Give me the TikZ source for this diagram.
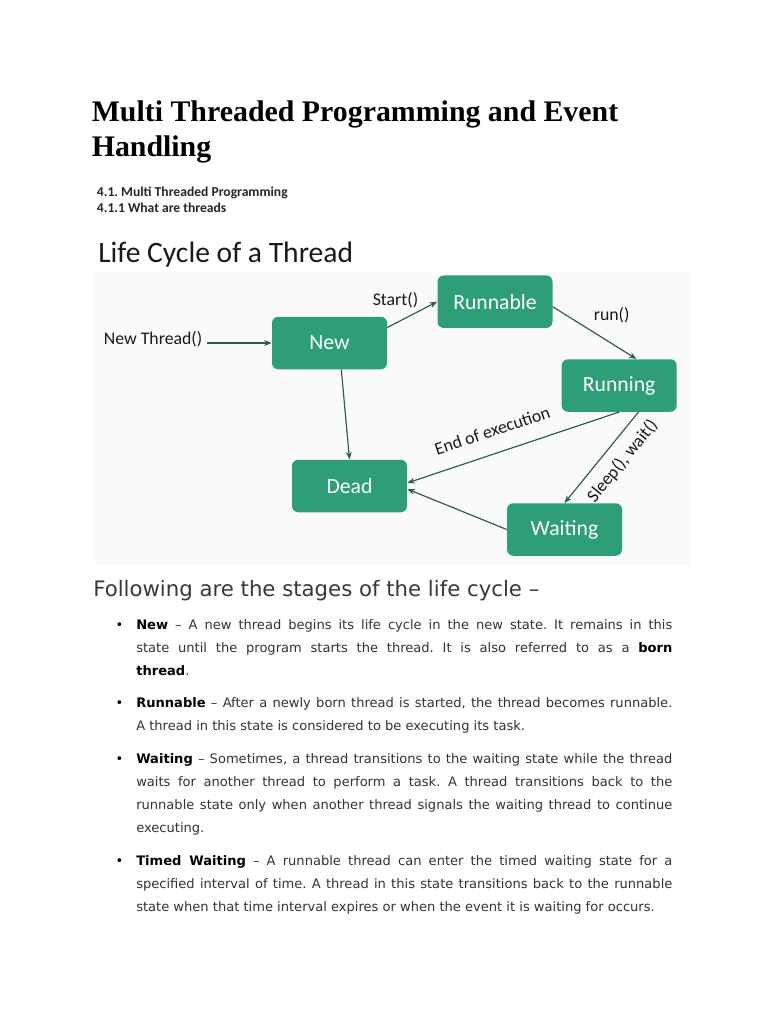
\documentclass[tikz,border=0pt]{standalone}
\usepackage{fontspec}
\usepackage{tikz}
\usetikzlibrary{arrows.meta, positioning, calc}
\usepackage{xcolor}
\setmainfont{Liberation Serif}
\newfontfamily\calibri{Carlito}
\newfontfamily\verdana{DejaVu Sans}
\definecolor{stategreen}{HTML}{2E9E78}
\definecolor{edgegreen}{HTML}{2B5E50}
\definecolor{bodygray}{HTML}{333333}
\definecolor{panelgray}{HTML}{FAFAFA}
\setlength{\parindent}{0pt}
\frenchspacing

\tikzset{
  state/.style={rectangle, rounded corners=4.5pt, fill=stategreen, text=white,
    minimum width=82.8pt, minimum height=37.8pt, inner sep=0pt,
    font=\calibri\fontsize{15.6}{18}\selectfont},
  trans/.style={draw=edgegreen, line width=0.85pt, -{Stealth[length=5.5pt, width=4.2pt]}},
  lbl/.style={font=\calibri\fontsize{12.8}{15}\selectfont, text=black!90},
  para/.style={anchor=base west, text width=386pt, align=justify, inner sep=0pt,
    font=\verdana\fontsize{9.4}{16.7}\selectfont\frenchspacing, text=bodygray}
}
\newcommand{\bul}{\llap{\textcolor{black}{\textbullet}\hspace{9.4pt}}}
\newcommand{\hd}[1]{\textcolor{black}{\textbf{#1}}}

\begin{document}
\begin{tikzpicture}[x=0.72pt, y=-0.72pt]
  \fill[white] (0,0) rectangle (768,1024);
  \useasboundingbox (0,0) rectangle (768,1024);
  % page heading
  \node[anchor=base west, inner sep=0pt, font=\bfseries\fontsize{21.5}{25}\selectfont] (title1) at (91.5,121) {Multi Threaded Programming and Event};
  \node[anchor=base west, inner sep=0pt, font=\bfseries\fontsize{21.5}{25}\selectfont] (title2) at (91.5,156.7) {Handling};
  \node[anchor=base west, inner sep=0pt, font=\calibri\bfseries\fontsize{9.8}{12}\selectfont, text=black!85] (sec1) at (96.7,196.7) {4.1. Multi Threaded Programming};
  \node[anchor=base west, inner sep=0pt, font=\calibri\bfseries\fontsize{9.8}{12}\selectfont, text=black!85] (sec2) at (96.7,212.7) {4.1.1 What are threads};
  % diagram
  \node[anchor=base west, inner sep=0pt, font=\calibri\fontsize{21.3}{25}\selectfont, text=black!90] (lctitle) at (98,262.3) {Life Cycle of a Thread};
  \fill[panelgray] (95,272) rectangle (690,566);
  \node[state] (New) at (329.5,343) {New};
  \node[state] (Runnable) at (495,301.7) {Runnable};
  \node[state] (Running) at (619.2,385.5) {Running};
  \node[state] (Dead) at (349.5,486) {Dead};
  \node[state] (Waiting) at (564.5,529.5) {Waiting};
  \node[lbl] (newthread) at (153,339) {New Thread()};
  \node[lbl] (start) at (395.5,300) {Start()};
  \node[lbl] (run) at (611.7,315) {run()};
  \draw[trans] (newthread.east |- New.west) -- (New.west);
  \draw[trans] (New.15) -- (Runnable.west);
  \draw[trans] (Runnable.-5) -- (Running.57);
  \draw[trans] (New.-66) -- (Dead.north);
  \draw[trans] (Running.south) -- node[lbl, sloped, above=8pt, pos=0.565] {End of execution} (Dead.3);
  \draw[trans] (Running.-54) -- node[lbl, sloped, below=4pt, pos=0.41] {Sleep(), wait()} (Waiting.north);
  \draw[trans] (Waiting.west) -- (Dead.-3);
  % stages text
  \node[anchor=base west, inner sep=0pt, font=\verdana\fontsize{15.3}{18}\selectfont, text=black!78] (intro) at (93,596) {Following are the stages of the life cycle –};
  \node[para] (pnew) at (136,629) {\bul\hd{New} – A new thread begins its life cycle in the new state. It remains in this\linebreak state until the program starts the thread. It is also referred to as a \hd{born}\linebreak \hd{thread}.};
  \node[para] (prunnable) at (136,707.5) {\bul\hd{Runnable} – After a newly born thread is started, the thread becomes runnable.\linebreak A thread in this state is considered to be executing its task.};
  \node[para] (pwaiting) at (136,763.3) {\bul\hd{Waiting} – Sometimes, a thread transitions to the waiting state while the thread\linebreak waits for another thread to perform a task. A thread transitions back to the\linebreak runnable state only when another thread signals the waiting thread to continue\linebreak executing.};
  \node[para] (ptimed) at (136,865.3) {\bul\hd{Timed Waiting} – A runnable thread can enter the timed waiting state for a\linebreak specified interval of time. A thread in this state transitions back to the runnable\linebreak state when that time interval expires or when the event it is waiting for occurs.};
\end{tikzpicture}
\end{document}
